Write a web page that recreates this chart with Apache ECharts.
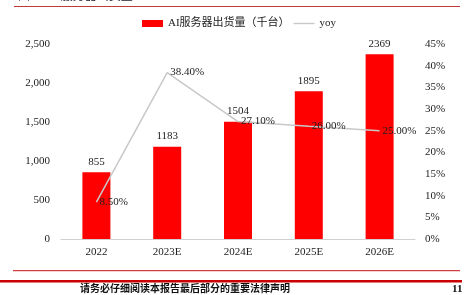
<!DOCTYPE html>
<html><head><meta charset="utf-8">
<script src="https://cdn.jsdelivr.net/npm/echarts@6/dist/echarts.min.js"></script>
<style>html,body{margin:0;padding:0;background:#fff}#c{width:474px;height:295px}</style>
</head><body><div id="c"></div>
<script>
const categories = ['2022', '2023E', '2024E', '2025E', '2026E'];
const shipments = [855, 1183, 1504, 1895, 2369];
const yoy = [8.5, 38.4, 27.1, 26.0, 25.0];
const leftTicks = [0, 500, 1000, 1500, 2000, 2500];
const rightTicks = [0, 5, 10, 15, 20, 25, 30, 35, 40, 45];

const serif = '"Liberation Serif", "Times New Roman", "Noto Sans CJK SC", serif';
const chart = echarts.init(document.getElementById('c'));
chart.setOption({
  animation: false,
  textStyle: { fontFamily: serif },
  legend: {
    top: 13, left: 137, itemWidth: 21, itemHeight: 7, itemGap: 4,
    textStyle: { fontFamily: serif, fontSize: 11, color: '#222' },
    data: [
      { name: 'AI服务器出货量（千台）', icon: 'rect' },
      { name: 'yoy', icon: 'path://M0,0L21,0L21,1.4L0,1.4Z', itemStyle: { color: '#c8c8c8', opacity: 1 } }
    ]
  },
  grid: { left: 61, right: 59, top: 44, bottom: 56 },
  xAxis: {
    type: 'category', data: categories,
    axisLine: { lineStyle: { color: '#d0d0d0' } },
    axisTick: { show: false },
    axisLabel: { fontFamily: serif, fontSize: 11, color: '#222', margin: 8 }
  },
  yAxis: [{
    type: 'value', min: leftTicks[0], max: leftTicks[leftTicks.length - 1], interval: 500,
    splitLine: { show: false }, axisLine: { show: false }, axisTick: { show: false },
    axisLabel: { fontFamily: serif, fontSize: 11, color: '#222', margin: 11,
      formatter: v => v.toLocaleString('en-US') }
  }, {
    type: 'value', min: rightTicks[0], max: rightTicks[rightTicks.length - 1], interval: 5,
    splitLine: { show: false }, axisLine: { show: false }, axisTick: { show: false },
    axisLabel: { fontFamily: serif, fontSize: 11, color: '#222', margin: 10, formatter: '{value}%' }
  }],
  series: [{
    name: 'AI服务器出货量（千台）', type: 'bar', data: shipments, barWidth: 28,
    itemStyle: { color: '#ff0000' },
    label: { show: true, position: 'top', fontFamily: serif, fontSize: 11, color: '#222', distance: 5 }
  }, {
    name: 'yoy', type: 'line', yAxisIndex: 1, data: yoy, symbol: 'circle', symbolSize: 2, showSymbol: true,
    lineStyle: { color: '#c8c8c8', width: 1.5 }, itemStyle: { color: 'rgba(200,200,200,0)' },
    z: 5,
    label: { show: true, position: 'right', distance: 2, fontFamily: serif, fontSize: 11, color: '#222',
      formatter: p => p.value.toFixed(2) + '%' },
    labelLayout: { hideOverlap: false }
  }],
  graphic: [
    { type: 'text', left: 18, top: -9, style: { text: '图 27 AI服务器出货量', fontSize: 12, fill: '#222', fontFamily: serif } },
    { type: 'rect', shape: { x: 14, y: 6, width: 446, height: 1 }, style: { fill: '#c0393b' } },
    { type: 'rect', shape: { x: 13, y: 270, width: 447, height: 1.2 }, style: { fill: '#d04040' } },
    { type: 'rect', shape: { x: 0, y: 280, width: 462, height: 2.5 }, style: { fill: '#cc0000' } },
    { type: 'text', left: 80, top: 284, style: { text: '请务必仔细阅读本报告最后部分的重要法律声明', fontSize: 10, fontWeight: 'bold', fill: '#111', fontFamily: serif } },
    { type: 'text', left: 452, top: 284, style: { text: '11', fontSize: 11, fontWeight: 'bold', fill: '#111', fontFamily: serif } }
  ]
});
</script></body></html>
